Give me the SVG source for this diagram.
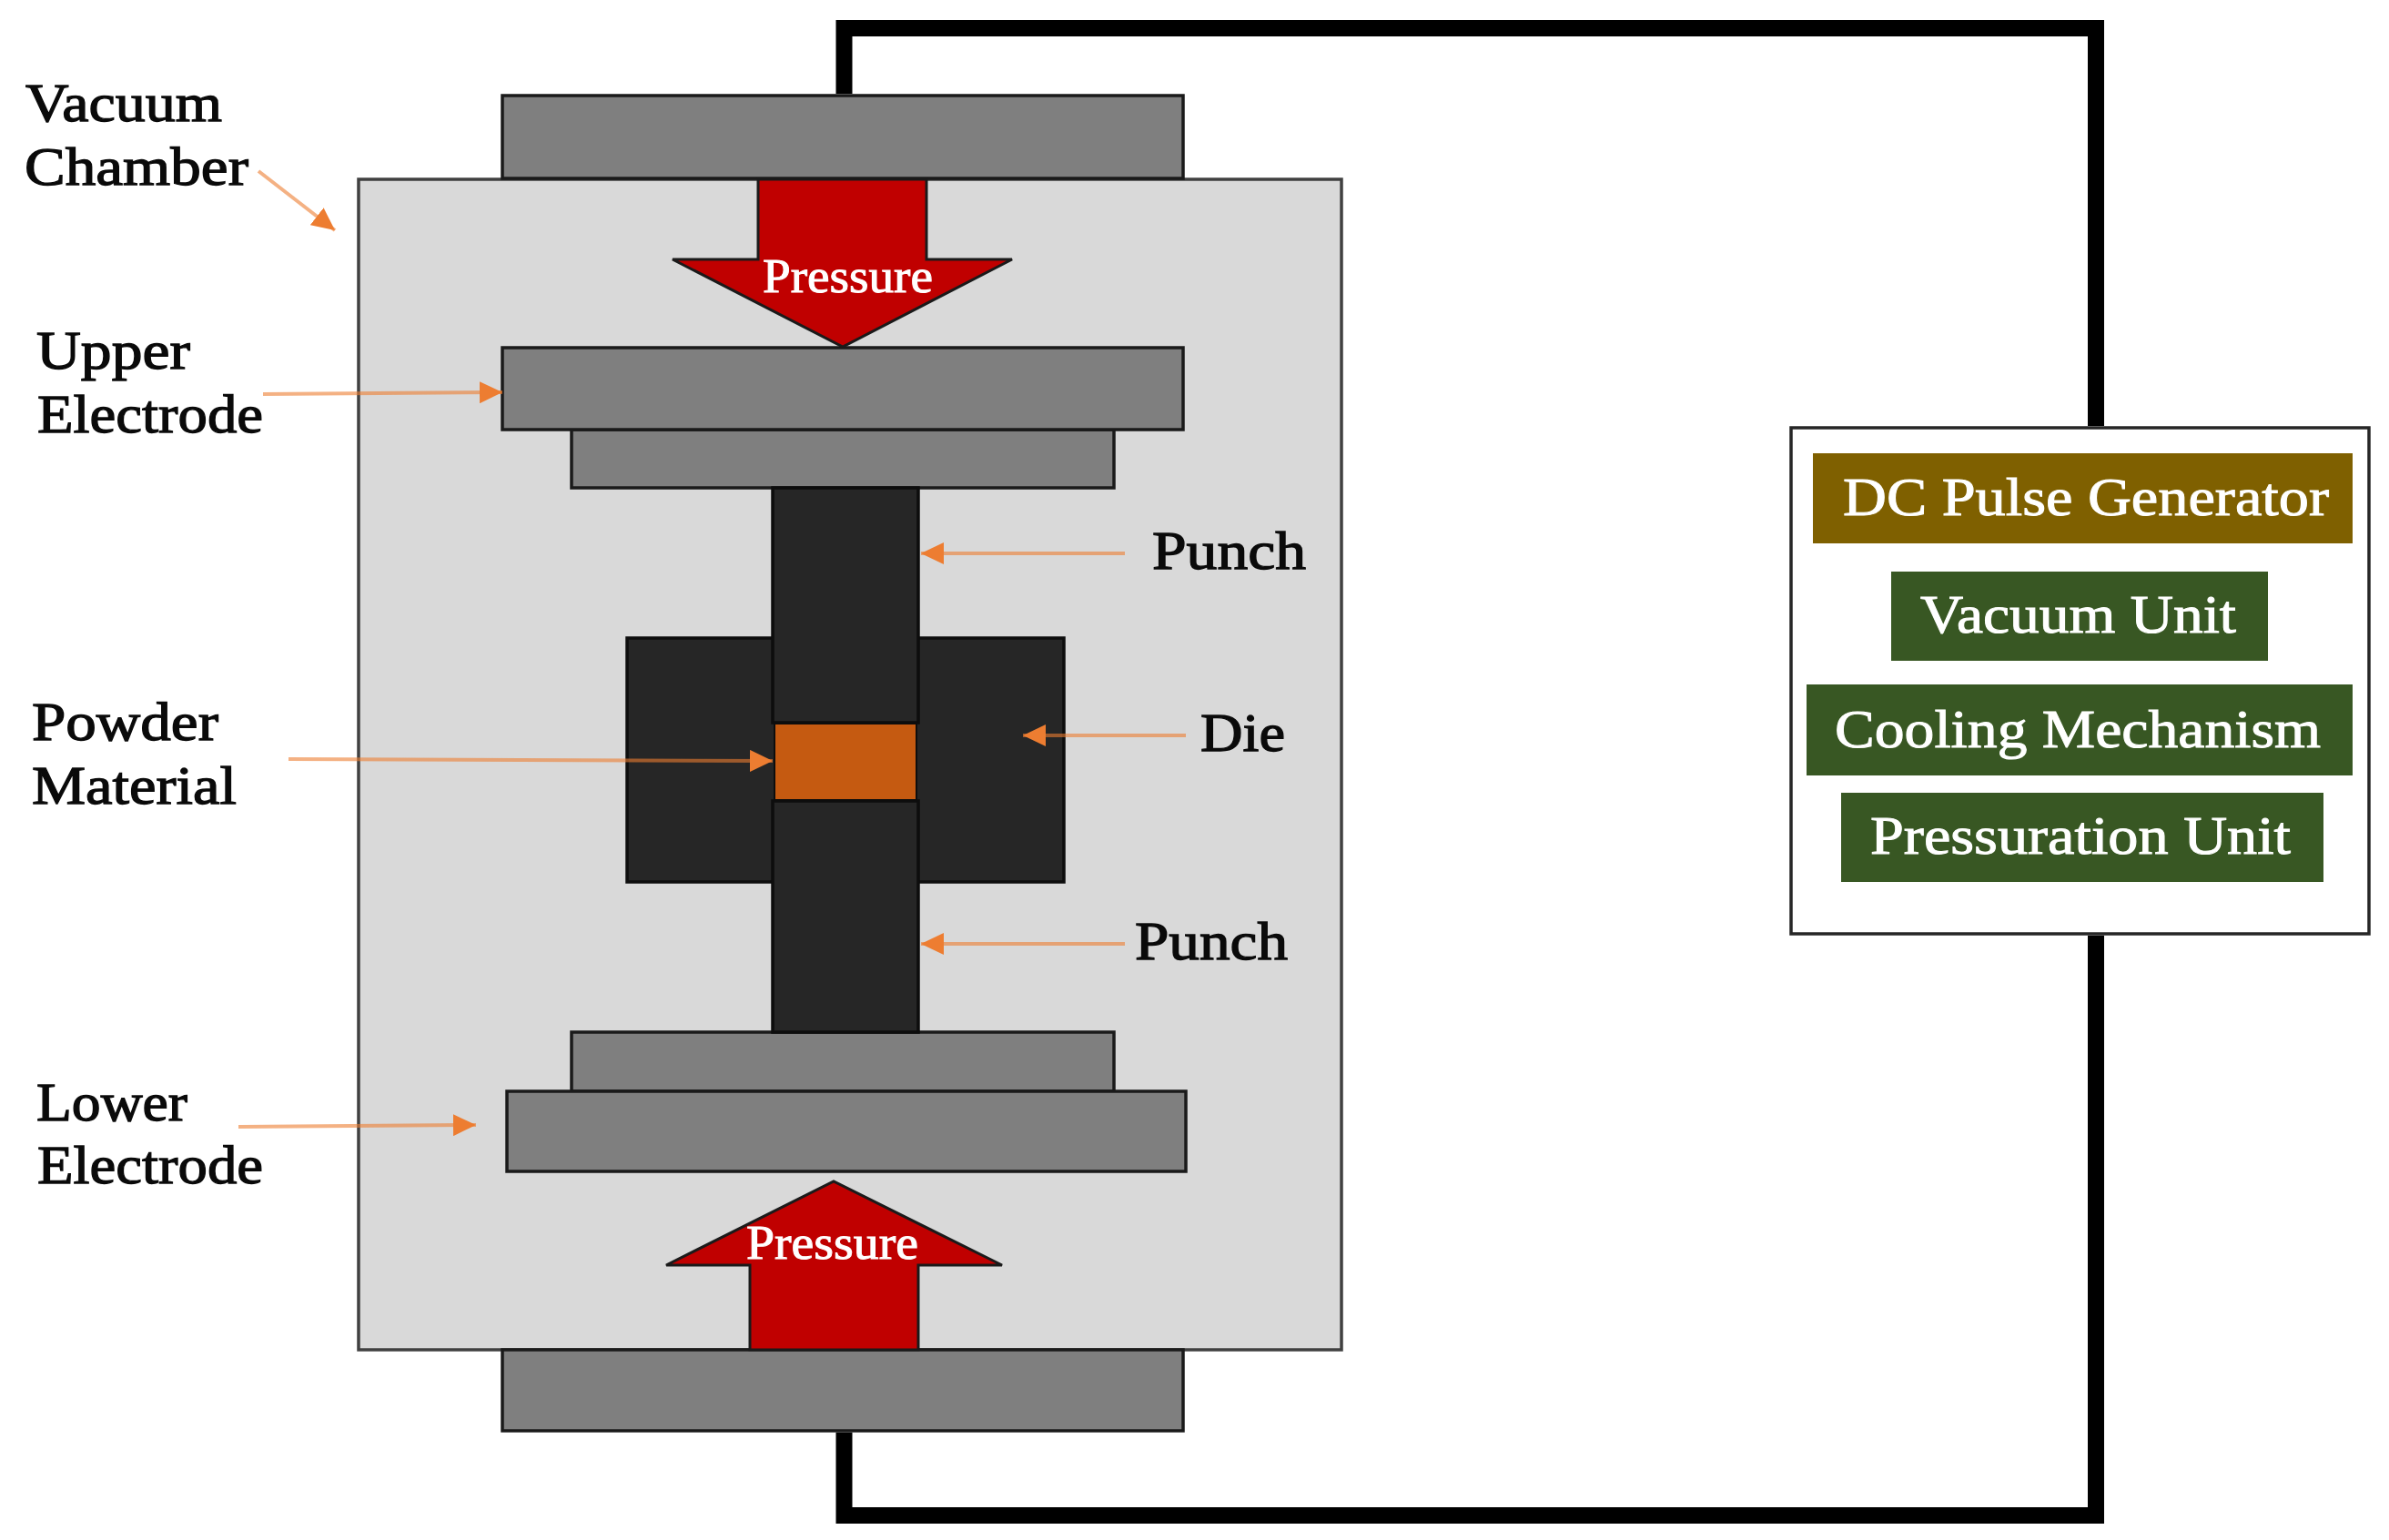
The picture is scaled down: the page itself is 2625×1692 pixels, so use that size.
<svg xmlns="http://www.w3.org/2000/svg" width="2625" height="1692" viewBox="0 0 2625 1692">
<defs>
<marker id="head" markerUnits="userSpaceOnUse" markerWidth="25" markerHeight="24" viewBox="0 0 25 24" refX="25" refY="12" orient="auto"><path d="M0 0L25 12L0 24Z" fill="#ED7D31"/></marker>
<style>
text{font-family:"Liberation Serif","Times New Roman",serif;font-size:60px}
.lab{fill:#0a0a0a;stroke:#0a0a0a;stroke-width:1.3}
.wt{fill:#fff;stroke:#fff;stroke-width:1}
.small{font-size:52px}
.plate{fill:#7F7F7F;stroke:#1a1a1a;stroke-width:3.5}
.dark{fill:#262626;stroke:#0d0d0d;stroke-width:3.5}
.red{fill:#C00000;stroke:#1a1a1a;stroke-width:3}
.wire{fill:none;stroke:#000;stroke-width:18}
.call{fill:none;stroke:#ED7D31;stroke-opacity:.6;stroke-width:4;marker-end:url(#head)}
</style>
</defs>
<rect width="2625" height="1692" fill="#fff"/>
<g id="vacuum-chamber">
<rect x="394" y="197" width="1080" height="1286" fill="#D9D9D9" stroke="#404040" stroke-width="3.5"/>
<text class="lab" x="28" y="133" textLength="216" lengthAdjust="spacingAndGlyphs">Vacuum</text>
<text class="lab" x="27" y="203" textLength="246" lengthAdjust="spacingAndGlyphs">Chamber</text>
</g>
<g id="top-plate"><rect class="plate" x="552" y="105" width="748" height="91"/></g>
<g id="bottom-plate"><rect class="plate" x="552" y="1483" width="748" height="89"/></g>
<g id="upper-electrode">
<rect class="plate" x="628" y="472" width="596" height="64"/>
<rect class="plate" x="552" y="382" width="748" height="90"/>
<text class="lab" x="40" y="405" textLength="169" lengthAdjust="spacingAndGlyphs">Upper</text>
<text class="lab" x="41" y="475" textLength="248" lengthAdjust="spacingAndGlyphs">Electrode</text>
</g>
<g id="lower-electrode">
<rect class="plate" x="628" y="1134" width="596" height="65"/>
<rect class="plate" x="557" y="1199" width="746" height="88"/>
<text class="lab" x="40" y="1231" textLength="166" lengthAdjust="spacingAndGlyphs">Lower</text>
<text class="lab" x="41" y="1300" textLength="248" lengthAdjust="spacingAndGlyphs">Electrode</text>
</g>
<g id="die">
<rect class="dark" x="689" y="701" width="480" height="268"/>
<text class="lab" x="1319" y="825" textLength="93" lengthAdjust="spacingAndGlyphs">Die</text>
</g>
<g id="punch-upper">
<rect class="dark" x="849" y="536" width="160" height="258"/>
<text class="lab" x="1266" y="625" textLength="169" lengthAdjust="spacingAndGlyphs">Punch</text>
</g>
<g id="punch-lower">
<rect class="dark" x="849" y="880" width="160" height="254"/>
<text class="lab" x="1247" y="1054" textLength="168" lengthAdjust="spacingAndGlyphs">Punch</text>
</g>
<g id="powder-material">
<rect x="851" y="795" width="156" height="84" fill="#C55A11" stroke="#0d0d0d" stroke-width="2"/>
<text class="lab" x="35" y="813" textLength="205" lengthAdjust="spacingAndGlyphs">Powder</text>
<text class="lab" x="35" y="883" textLength="225" lengthAdjust="spacingAndGlyphs">Material</text>
</g>
<g id="pressure-top">
<path class="red" d="M833 197H1018V285H1112L926 381L739 285H833Z"/>
<text class="wt small" x="838" y="321" textLength="187" lengthAdjust="spacingAndGlyphs">Pressure</text>
</g>
<g id="pressure-bottom">
<path class="red" d="M824 1483V1390H732L916 1298L1101 1390H1009V1483Z"/>
<text class="wt small" x="820" y="1383" textLength="189" lengthAdjust="spacingAndGlyphs">Pressure</text>
</g>
<g id="control-box"><rect x="1968" y="470" width="635" height="556" fill="#fff" stroke="#262626" stroke-width="3.5"/></g>
<g id="dc-pulse-generator">
<rect x="1992" y="498" width="593" height="99" fill="#7F6000"/>
<text class="wt" x="2025" y="566" textLength="534" lengthAdjust="spacingAndGlyphs">DC Pulse Generator</text>
</g>
<g id="vacuum-unit">
<rect x="2078" y="628" width="414" height="98" fill="#385723"/>
<text class="wt" x="2110" y="695" textLength="347" lengthAdjust="spacingAndGlyphs">Vacuum Unit</text>
</g>
<g id="cooling-mechanism">
<rect x="1985" y="752" width="600" height="100" fill="#385723"/>
<text class="wt" x="2016" y="821" textLength="534" lengthAdjust="spacingAndGlyphs">Cooling Mechanism</text>
</g>
<g id="pressuration-unit">
<rect x="2023" y="871" width="530" height="98" fill="#385723"/>
<text class="wt" x="2055" y="938" textLength="462" lengthAdjust="spacingAndGlyphs">Pressuration Unit</text>
</g>
<g id="connectors">
<path class="wire" d="M927.5 103V31H2303V468"/>
<path class="wire" d="M927.5 1574V1665H2303V1028"/>
<path class="call" d="M284 188L368 253"/>
<path class="call" d="M289 433L552 431"/>
<path class="call" d="M262 1238L523 1236"/>
<path class="call" d="M317 834L849 836"/>
<path class="call" d="M1236 608H1012"/>
<path class="call" d="M1303 808H1124"/>
<path class="call" d="M1236 1037H1012"/>
</g>
</svg>
